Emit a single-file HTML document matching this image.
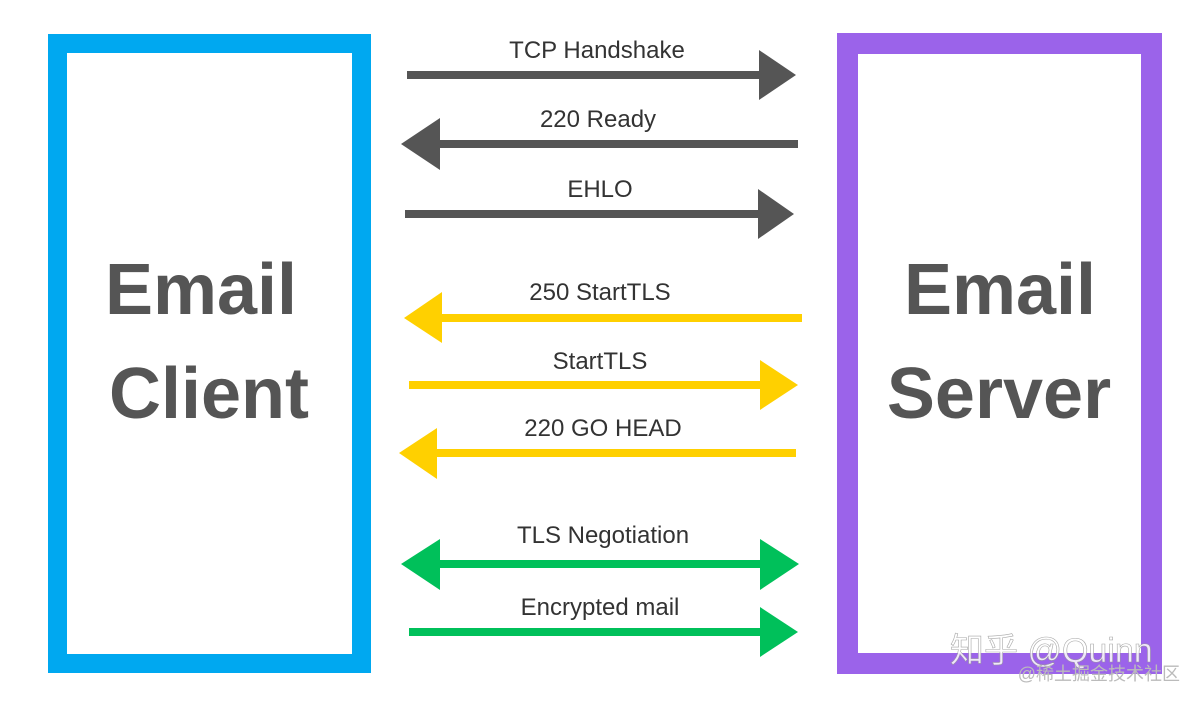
<!DOCTYPE html>
<html><head><meta charset="utf-8"><style>
html,body{margin:0;padding:0;background:#fff;}
body{width:1200px;height:703px;overflow:hidden;position:relative;}
svg{position:absolute;left:0;top:0;}
</style></head><body>
<svg width="1200" height="703" viewBox="0 0 1200 703" xmlns="http://www.w3.org/2000/svg">
<rect x="0" y="0" width="1200" height="703" fill="#fff"/>
<rect x="57.5" y="43.5" width="304" height="620" fill="none" stroke="#00a8f0" stroke-width="19"/>
<rect x="847.5" y="43.5" width="304" height="620" fill="none" stroke="#9b63ea" stroke-width="21"/>
<g font-family="Liberation Sans, sans-serif" font-weight="bold" font-size="72" fill="#555" text-anchor="middle">
<text x="201" y="314">Email</text>
<text x="209" y="418">Client</text>
<text x="1000" y="314">Email</text>
<text x="999" y="418">Server</text>
</g>
<g font-family="Liberation Sans, sans-serif" font-size="24" fill="#333" text-anchor="middle">
<text x="597" y="58">TCP Handshake</text>
<text x="598" y="127">220 Ready</text>
<text x="600" y="197">EHLO</text>
<text x="600" y="300">250 StartTLS</text>
<text x="600" y="369">StartTLS</text>
<text x="603" y="436">220 GO HEAD</text>
<text x="603" y="543">TLS Negotiation</text>
<text x="600" y="615">Encrypted mail</text>
</g>
<!-- dark -->
<g fill="#555">
<rect x="407" y="71" width="356" height="8"/><polygon points="759,50 796,75 759,100"/>
<rect x="437" y="140" width="361" height="8"/><polygon points="440,118 401,144 440,170"/>
<rect x="405" y="210" width="356" height="8"/><polygon points="758,189 794,214 758,239"/>
</g>
<g fill="#ffd000">
<rect x="437" y="314" width="365" height="8"/><polygon points="442,292 404,318 442,343"/>
<rect x="409" y="381" width="354" height="8"/><polygon points="760,360 798,385 760,410"/>
<rect x="437" y="449" width="359" height="8"/><polygon points="437,428 399,453 437,479"/>
</g>
<g fill="#00c05a">
<rect x="437" y="560" width="326" height="8"/><polygon points="440,539 401,564 440,590"/><polygon points="760,539 799,564 760,590"/>
<rect x="409" y="628" width="354" height="8"/><polygon points="760,607 798,632 760,657"/>
</g>
<g font-family="Liberation Sans, 'Noto Sans CJK SC', sans-serif" fill="#fff" stroke="#999" stroke-width="0.6" opacity="0.85">
<text x="950" y="662" font-size="34">知乎 @Quinn</text>
</g>
<text x="1180" y="680" font-family="Liberation Sans, 'Noto Sans CJK SC', sans-serif" font-size="18" fill="#bbb" text-anchor="end">@稀土掘金技术社区</text>
</svg>
</body></html>
